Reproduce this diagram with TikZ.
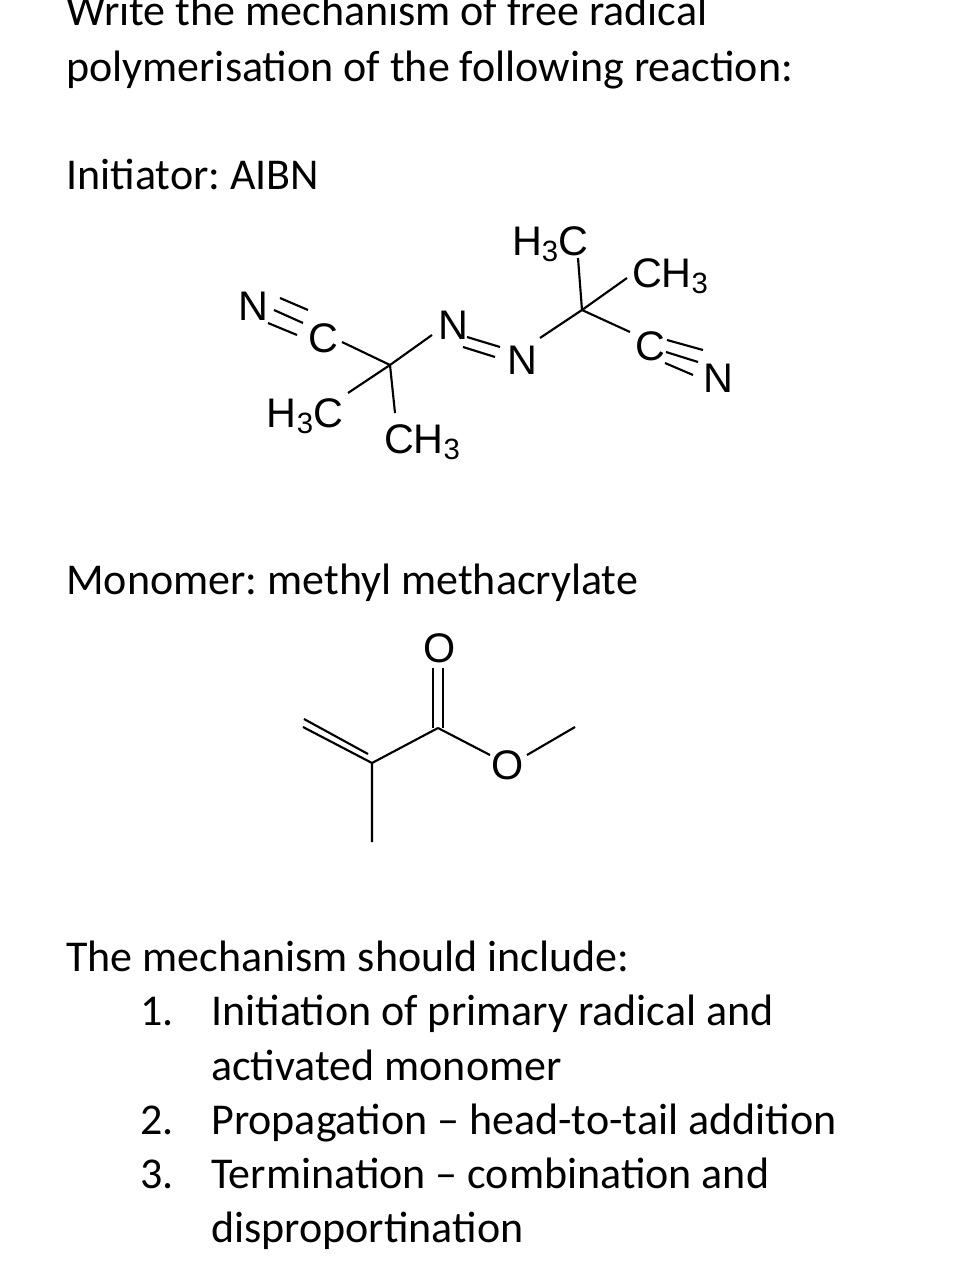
\documentclass[tikz,border=0pt]{standalone}
\usepackage{fontspec}
\setmainfont{Carlito}
\newfontfamily\chemf{Liberation Sans}
\newcommand{\sbs}[1]{\raisebox{-0.3ex}{\fontsize{22}{24}\selectfont #1}}
\begin{document}
\frenchspacing
\begin{tikzpicture}[x=0.75pt,y=-0.75pt,
  txt/.style={anchor=base west,inner sep=0,font=\fontsize{33}{38}\selectfont},
  lab/.style={inner sep=0pt,font=\chemf\fontsize{31}{34}\selectfont},
  bond/.style={line width=1.6pt}]
\useasboundingbox[fill=white] (0,0) rectangle (976,1280);
\node[txt] (t1) at (66,26) {Write the mechanism of free radical};
\node[txt] (t2) at (66,82) {polymerisation of the following reaction:};
\node[txt] (t3) at (66,190) {Initiator: AIBN};
\node[txt] (t4) at (66,594) {Monomer: methyl methacrylate};
\node[txt] (t5) at (66,971) {The mechanism should include:};
\node[txt] (n1) at (140,1025) {1.};
\node[txt] (l1) at (211,1025) {Initiation of primary radical and};
\node[txt] (l1b) at (211,1080) {activated monomer};
\node[txt] (n2) at (140,1134) {2.};
\node[txt] (l2) at (211,1134) {Propagation – head-to-tail addition};
\node[txt] (n3) at (140,1188) {3.};
\node[txt] (l3) at (211,1188) {Termination – combination and};
\node[txt] (l3b) at (211,1242) {disproportination};
% AIBN
\node[lab] (Na) at (253,306) {N};
\node[lab] (Ca) at (323,338) {C};
\coordinate (Q1) at (390,365);
\node[lab] (Ma) at (305,416) {H\sbs{3}C};
\node[lab] (Mb) at (422,442) {CH\sbs{3}};
\node[lab] (N1) at (453,325) {N};
\node[lab] (N2) at (522,360) {N};
\coordinate (Q2) at (582,310);
\node[lab] (Mc) at (550,244) {H\sbs{3}C};
\node[lab] (Md) at (670,276) {CH\sbs{3}};
\node[lab] (Cb) at (650,346) {C};
\node[lab] (Nb) at (718,378) {N};
\draw[bond] (Q1) -- (342,342);
\draw[bond] (Q1) -- (348,393);
\draw[bond] (Q1) -- (395,413);
\draw[bond] (Q1) -- (432,335);
\draw[bond] (467,337) -- (500,347);
\draw[bond] (463,347) -- (495,357);
\draw[bond] (540,338) -- (Q2);
\draw[bond] (Q2) -- (578,258);
\draw[bond] (Q2) -- (627,278);
\draw[bond] (Q2) -- (630,332);
\draw[bond] (280,298) -- (308,310);
\draw[bond] (274,310) -- (303,323);
\draw[bond] (268,323) -- (297,335);
\draw[bond] (667,340) -- (703,350);
\draw[bond] (666,352) -- (698,362);
\draw[bond] (665,363) -- (693,375);
% MMA
\node[lab] (O1) at (440,648) {O};
\node[lab] (O2) at (508,765) {O};
\coordinate (Cc) at (438,728);
\coordinate (Cv) at (372,763);
\coordinate (Ce) at (303,727);
\coordinate (Cm) at (372,842);
\coordinate (Co) at (575,727);
\draw[bond] (433,668) -- (433,728);
\draw[bond] (443,668) -- (443,728);
\draw[bond] (Cc) -- (Cv) -- (Cm);
\draw[bond] (Cv) -- (Ce);
\draw[bond] (368,754) -- (304,719);
\draw[bond] (Cc) -- (490,755);
\draw[bond] (527,755) -- (Co);
\end{tikzpicture}
\end{document}
